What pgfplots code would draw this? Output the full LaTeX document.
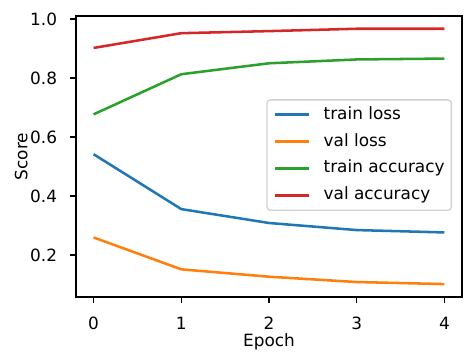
\documentclass[border=0pt]{standalone}
\usepackage{fontspec}
\setmainfont{DejaVu Sans}
\usepackage{pgfplots}
\pgfplotsset{compat=1.18}
\definecolor{c0}{HTML}{1F77B4}
\definecolor{c1}{HTML}{FF7F0E}
\definecolor{c2}{HTML}{2CA02C}
\definecolor{c3}{HTML}{D62728}
\newcommand{\tenpt}{\fontsize{10pt}{12pt}\selectfont}
\begin{document}
\begin{tikzpicture}
\begin{axis}[
  scale only axis, width=228.4pt, height=166.3pt,
  xmin=-0.2, xmax=4.2, ymin=0.058, ymax=1.01,
  xtick={0,1,2,3,4}, ytick={0.2,0.4,0.6,0.8,1.0},
  tick align=outside, xtick pos=bottom, ytick pos=left,
  major tick length=3.5pt,
  every tick/.style={line width=0.8pt, black},
  axis line style={line width=0.8pt},
  /pgf/number format/assume math mode=true,
  xticklabel={\pgfmathprintnumber[assume math mode=true]{\tick}},
  yticklabel={\pgfmathprintnumber[fixed,fixed zerofill,precision=1,assume math mode=true]{\tick}},
  yticklabel style={font=\tenpt, anchor=east, inner sep=0pt, xshift=-7.5pt},
  xticklabel style={font=\tenpt, anchor=base, inner sep=0pt, yshift=-15.6pt},
  xlabel={Epoch}, ylabel={Score},
  every axis x label/.style={font=\tenpt, at={(axis description cs:0.5,0)}, anchor=base, inner sep=0pt, yshift=-29.4pt},
  every axis y label/.style={font=\tenpt, at={(axis description cs:0,0.5)}, xshift=-32.5pt, rotate=90, anchor=center, inner sep=0pt},
  legend cell align=left,
  legend style={font=\tenpt, at={(axis description cs:1,0.5)}, anchor=east, xshift=-5.9pt, yshift=0.9pt,
    draw=black!18, line width=0.8pt, rounded corners=2pt, inner sep=4pt,
    row sep=6.3pt, column sep=8pt,
    nodes={inner sep=0pt, text height=7.4pt, text depth=2.2pt, anchor=west}},
  legend image code/.code={\draw[#1, line width=1.5pt] (0pt,0pt) -- (20pt,0pt);},
]
\addplot[c0, line width=1.5pt] coordinates {(0,0.542) (1,0.356) (2,0.309) (3,0.285) (4,0.277)};
\addlegendentry{train loss}
\addplot[c1, line width=1.5pt] coordinates {(0,0.260) (1,0.152) (2,0.127) (3,0.109) (4,0.102)};
\addlegendentry{val loss}
\addplot[c2, line width=1.5pt] coordinates {(0,0.677) (1,0.813) (2,0.850) (3,0.863) (4,0.866)};
\addlegendentry{train accuracy}
\addplot[c3, line width=1.5pt] coordinates {(0,0.902) (1,0.952) (2,0.959) (3,0.967) (4,0.967)};
\addlegendentry{val accuracy}
\end{axis}
\path (-45pt,-39.1pt) rectangle (235.5pt,175.8pt);
\end{tikzpicture}
\end{document}
